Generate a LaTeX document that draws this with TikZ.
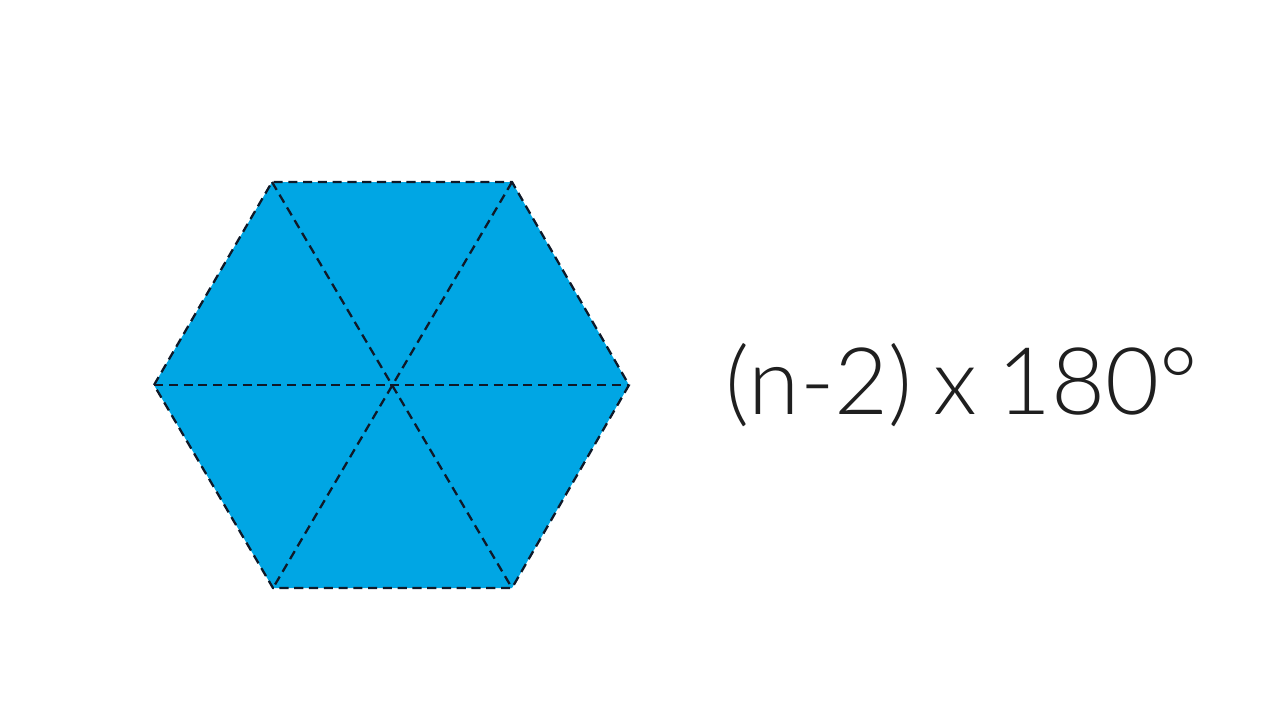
\documentclass[tikz,border=0pt]{standalone}
\usepackage{fontspec}
\setmainfont{Lato}[UprightFont={* Light}]
\definecolor{hexblue}{RGB}{0,166,228}
\definecolor{dashcol}{RGB}{15,25,40}
\begin{document}
\begin{tikzpicture}[x=0.01cm,y=-0.01cm,
  edge/.style={draw=dashcol,line width=0.65pt,dash pattern=on 2.6pt off 1.6pt},
  formula/.style={font=\fontsize{26.5}{30}\selectfont,text=black!88,inner sep=0pt}]
\useasboundingbox (0,0) rectangle (1280,720);
\fill[white] (0,0) rectangle (1280,720);
\coordinate (L) at (154,385);
\coordinate (TL) at (272,182);
\coordinate (TR) at (512,182);
\coordinate (R) at (629,385);
\coordinate (BR) at (512,588);
\coordinate (BL) at (273,588);
\coordinate (C) at (390,385);
\fill[hexblue] (L) -- (TL) -- (TR) -- (R) -- (BR) -- (BL) -- cycle;
\draw[edge] (L) -- (TL) -- (TR) -- (R) -- (BR) -- (BL) -- cycle;
\draw[edge] (L) -- (R);
\draw[edge] (TL) -- (BR);
\draw[edge] (TR) -- (BL);
\node[formula,anchor=base] (f) at (962,414) {(n-2)\hspace{0.22em}x\hspace{0.22em}180°};
\end{tikzpicture}
\end{document}
